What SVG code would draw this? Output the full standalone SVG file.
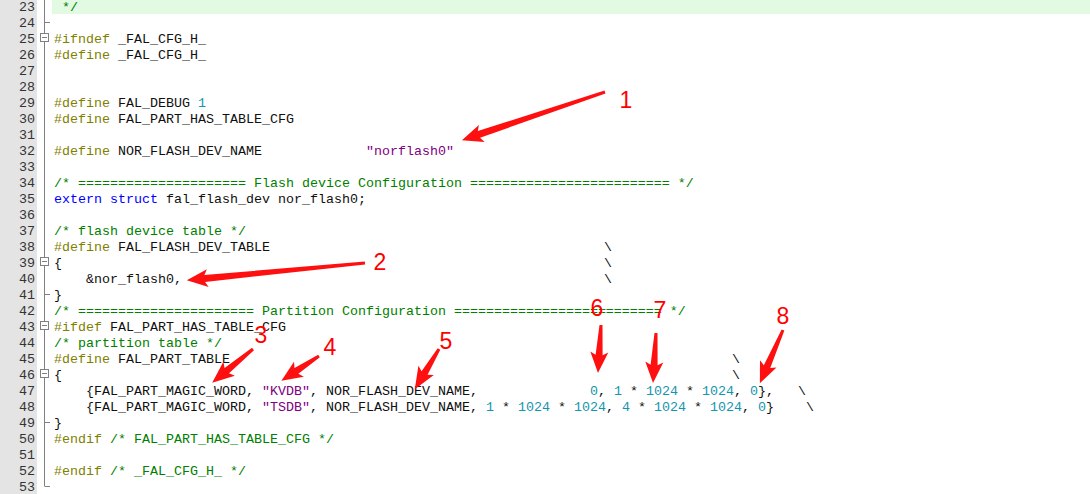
<svg xmlns="http://www.w3.org/2000/svg" width="1090" height="494" viewBox="0 0 1090 494">
<style>
.c{font-family:"Liberation Mono",monospace;font-size:13.33px;white-space:pre;fill:#101010}
.n{font-family:"Liberation Mono",monospace;font-size:13.33px;fill:#333;text-anchor:end}
.p{fill:#808000}.g{fill:#008000}.s{fill:#800080}.d{fill:#1595ad}.k{fill:#0000ff}
.lb{font-family:"Liberation Sans",Arial,sans-serif;font-size:23px;fill:#ff0000;text-anchor:middle}
.ar{fill:#ff1010}
.fb{fill:#fff;stroke:#808080;stroke-width:1}
</style>
<rect width="1090" height="494" fill="#fff"/>
<rect x="0" y="0" width="37" height="494" fill="#e4e4e4"/>
<rect x="52" y="0" width="1038" height="14" fill="#e2f9e2"/>
<g id="fold" stroke="#808080" stroke-width="1" fill="none">
<line x1="44.5" y1="0" x2="44.5" y2="486"/>
<line x1="44.5" y1="22.5" x2="50" y2="22.5"/>
<line x1="44.5" y1="294.5" x2="50" y2="294.5"/>
<line x1="44.5" y1="422.5" x2="50" y2="422.5"/>
<line x1="44.5" y1="486.5" x2="50" y2="486.5"/>
<rect class="fb" x="40.5" y="33.5" width="8" height="8"/><line x1="42" y1="37.5" x2="47" y2="37.5"/>
<rect class="fb" x="40.5" y="257.5" width="8" height="8"/><line x1="42" y1="261.5" x2="47" y2="261.5"/>
<rect class="fb" x="40.5" y="321.5" width="8" height="8"/><line x1="42" y1="325.5" x2="47" y2="325.5"/>
<rect class="fb" x="40.5" y="369.5" width="8" height="8"/><line x1="42" y1="373.5" x2="47" y2="373.5"/>
</g>
<g id="linenums">
<text class="n" x="35" y="10.5">23</text><text class="n" x="35" y="26.5">24</text><text class="n" x="35" y="42.5">25</text><text class="n" x="35" y="58.5">26</text><text class="n" x="35" y="74.5">27</text><text class="n" x="35" y="90.5">28</text><text class="n" x="35" y="106.5">29</text><text class="n" x="35" y="122.5">30</text><text class="n" x="35" y="138.5">31</text><text class="n" x="35" y="154.5">32</text><text class="n" x="35" y="170.5">33</text><text class="n" x="35" y="186.5">34</text><text class="n" x="35" y="202.5">35</text><text class="n" x="35" y="218.5">36</text><text class="n" x="35" y="234.5">37</text><text class="n" x="35" y="250.5">38</text><text class="n" x="35" y="266.5">39</text><text class="n" x="35" y="282.5">40</text><text class="n" x="35" y="298.5">41</text><text class="n" x="35" y="314.5">42</text><text class="n" x="35" y="330.5">43</text><text class="n" x="35" y="346.5">44</text><text class="n" x="35" y="362.5">45</text><text class="n" x="35" y="378.5">46</text><text class="n" x="35" y="394.5">47</text><text class="n" x="35" y="410.5">48</text><text class="n" x="35" y="426.5">49</text><text class="n" x="35" y="442.5">50</text><text class="n" x="35" y="458.5">51</text><text class="n" x="35" y="474.5">52</text><text class="n" x="35" y="490.5">53</text>
</g>
<g id="code">
<text class="c g" x="54" y="10.5"> */</text>
<text class="c" x="54" y="42.5"><tspan class="p">#ifndef</tspan> _FAL_CFG_H_</text>
<text class="c" x="54" y="58.5"><tspan class="p">#define</tspan> _FAL_CFG_H_</text>
<text class="c" x="54" y="106.5"><tspan class="p">#define</tspan> FAL_DEBUG <tspan class="d">1</tspan></text>
<text class="c" x="54" y="122.5"><tspan class="p">#define</tspan> FAL_PART_HAS_TABLE_CFG</text>
<text class="c" x="54" y="154.5"><tspan class="p">#define</tspan> NOR_FLASH_DEV_NAME             <tspan class="s">"norflash0"</tspan></text>
<text class="c g" x="54" y="186.5">/* ===================== Flash device Configuration ========================= */</text>
<text class="c" x="54" y="202.5"><tspan class="k">extern</tspan> <tspan class="k">struct</tspan> fal_flash_dev nor_flash0;</text>
<text class="c g" x="54" y="234.5">/* flash device table */</text>
<text class="c" x="54" y="250.5"><tspan class="p">#define</tspan> FAL_FLASH_DEV_TABLE</text>
<text class="c" x="604" y="250.5">\</text>
<text class="c" x="54" y="266.5">{</text>
<text class="c" x="604" y="266.5">\</text>
<text class="c" x="54" y="282.5">    &amp;nor_flash0,</text>
<text class="c" x="604" y="282.5">\</text>
<text class="c" x="54" y="298.5">}</text>
<text class="c g" x="54" y="314.5">/* ====================== Partition Configuration ========================== */</text>
<text class="c" x="54" y="330.5"><tspan class="p">#ifdef</tspan> FAL_PART_HAS_TABLE_CFG</text>
<text class="c g" x="54" y="346.5">/* partition table */</text>
<text class="c" x="54" y="362.5"><tspan class="p">#define</tspan> FAL_PART_TABLE</text>
<text class="c" x="732" y="362.5">\</text>
<text class="c" x="54" y="378.5">{</text>
<text class="c" x="732" y="378.5">\</text>
<text class="c" x="54" y="394.5">    {FAL_PART_MAGIC_WORD, <tspan class="s">"KVDB"</tspan>, NOR_FLASH_DEV_NAME,              <tspan class="d">0</tspan>, <tspan class="d">1</tspan> * <tspan class="d">1024</tspan> * <tspan class="d">1024</tspan>, <tspan class="d">0</tspan>},   \</text>
<text class="c" x="54" y="410.5">    {FAL_PART_MAGIC_WORD, <tspan class="s">"TSDB"</tspan>, NOR_FLASH_DEV_NAME, <tspan class="d">1</tspan> * <tspan class="d">1024</tspan> * <tspan class="d">1024</tspan>, <tspan class="d">4</tspan> * <tspan class="d">1024</tspan> * <tspan class="d">1024</tspan>, <tspan class="d">0</tspan>}    \</text>
<text class="c" x="54" y="426.5">}</text>
<text class="c" x="54" y="442.5"><tspan class="p">#endif</tspan><tspan class="g"> /* FAL_PART_HAS_TABLE_CFG */</tspan></text>
<text class="c" x="54" y="474.5"><tspan class="p">#endif</tspan><tspan class="g"> /* _FAL_CFG_H_ */</tspan></text>
</g>
<g id="connectors">
<polygon class="ar" transform="translate(605,92) rotate(161.4)" points="0,-1.5 133,-3.5 130,-9 151,0 130,9 133,3.5 0,1.5"/>
<polygon class="ar" transform="translate(365,263) rotate(174.5)" points="0,-1.5 161,-3.5 158,-9 179,0 158,9 161,3.5 0,1.5"/>
<polygon class="ar" transform="translate(253,349) rotate(140.4)" points="0,-1.5 34,-3.5 31,-9 53,0 31,9 34,3.5 0,1.5"/>
<polygon class="ar" transform="translate(319,356) rotate(146.7)" points="0,-1.5 27,-3.5 24,-9 45,0 24,9 27,3.5 0,1.5"/>
<polygon class="ar" transform="translate(439,349) rotate(121)" points="0,-1.5 28,-3.5 25,-9 47,0 25,9 28,3.5 0,1.5"/>
<polygon class="ar" transform="translate(601,325) rotate(93.6)" points="0,-1.5 30,-3.5 27,-9 48,0 27,9 30,3.5 0,1.5"/>
<polygon class="ar" transform="translate(656,333) rotate(93.4)" points="0,-1.5 32,-3.5 29,-9 50,0 29,9 32,3.5 0,1.5"/>
<polygon class="ar" transform="translate(783,330) rotate(113.5)" points="0,-1.5 40,-3.5 37,-9 58,0 37,9 40,3.5 0,1.5"/>
</g>
<g id="labels">
<text class="lb" x="626" y="108">1</text>
<text class="lb" x="380" y="270">2</text>
<text class="lb" x="261" y="343">3</text>
<text class="lb" x="330" y="355">4</text>
<text class="lb" x="446" y="349">5</text>
<text class="lb" x="597" y="316">6</text>
<text class="lb" x="660" y="318">7</text>
<text class="lb" x="783" y="324">8</text>
</g>
</svg>
